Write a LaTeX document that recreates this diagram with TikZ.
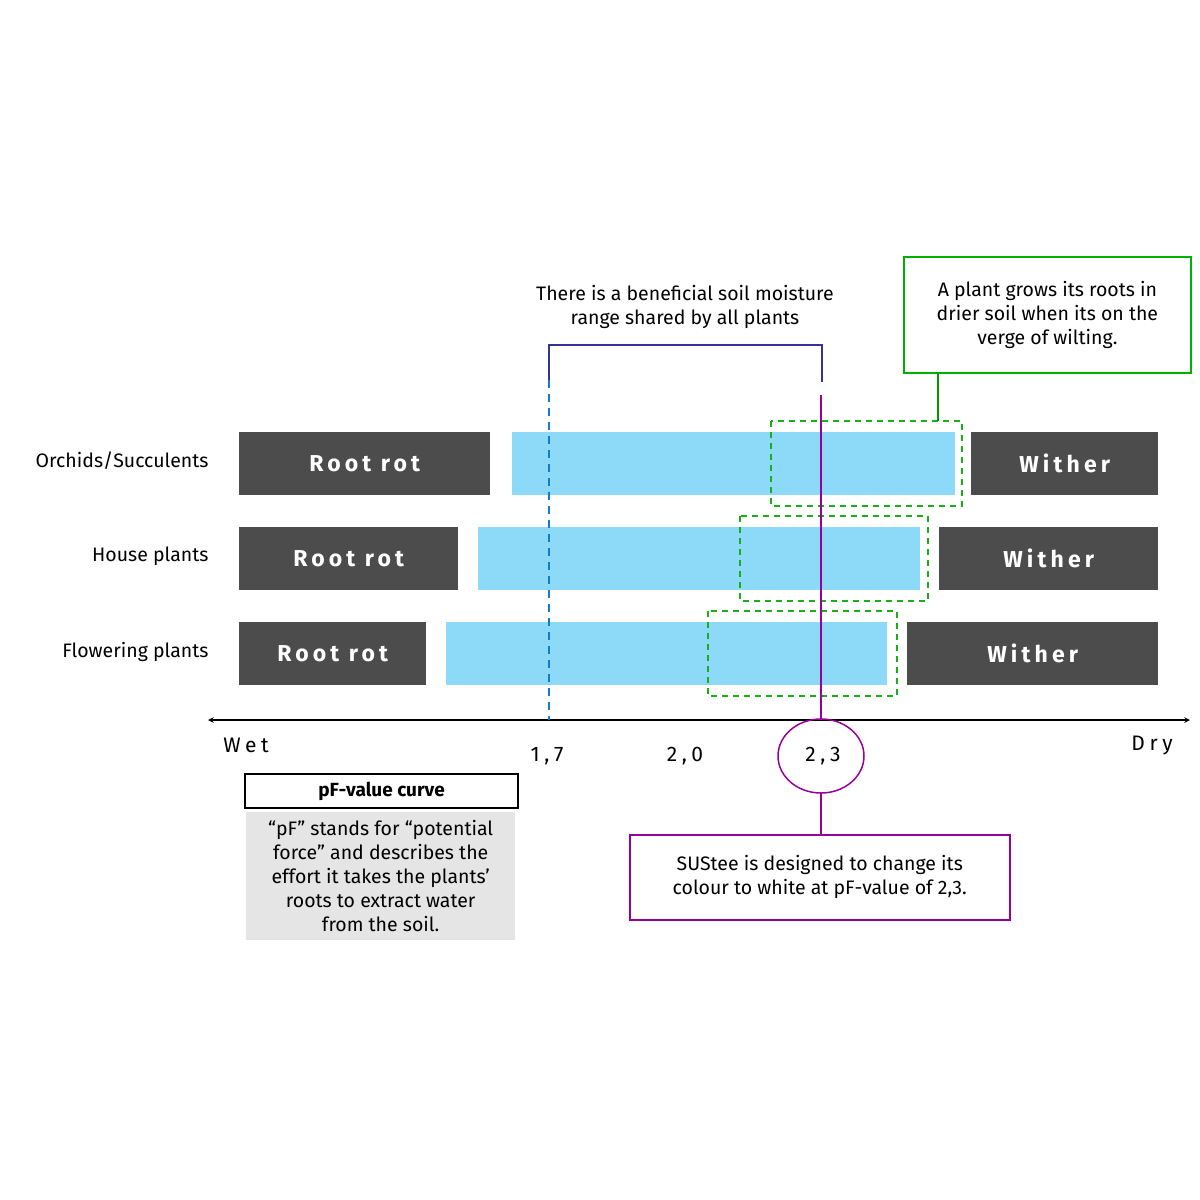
\documentclass[tikz,border=0pt]{standalone}
\usepackage{fontspec}
\setmainfont{Fira Sans}
\begin{document}
\begin{tikzpicture}[x=1pt,y=-1pt,
  dark/.style={fill=black!70,draw=none},
  gbox/.style={draw=green!65!black!90,line width=2pt,dash pattern=on 6pt off 5pt},
  lab/.style={font=\fontsize{19.5}{22}\selectfont,anchor=east},
  wt/.style={text=white,font=\fontsize{23}{25}\selectfont\bfseries\addfontfeatures{LetterSpace=18}},
  ax/.style={font=\fontsize{21}{24}\selectfont\addfontfeatures{LetterSpace=22}},
  txt/.style={font=\fontsize{19.5}{24}\selectfont,align=center}]
\useasboundingbox (0,0) rectangle (1200,1200);
\colorlet{bl}{cyan!45!white}
% rows
\foreach \y/\rr/\bs/\be/\ws/\gs/\ge/\n in {432/490/512/955/971/771/962/a,527/458/478/920/939/740/928/b,622/426/446/887/907/708/897/c}{
  \fill[bl] (\bs,\y) rectangle (\be,\y+63);
  \draw[gbox] (\gs,\y-11) rectangle (\ge,\y+74);
  \node[dark,minimum width=\rr-239,minimum height=63,anchor=north west,wt] (rr\n) at (239,\y) {Root rot};
  \node[dark,minimum width=1158-\ws,minimum height=63,anchor=north west,wt] (w\n) at (\ws,\y) {Wither};
}
\node[lab] (l1) at (212,461) {Orchids/Succulents};
\node[lab] (l2) at (212,556) {House plants};
\node[lab] (l3) at (212,652) {Flowering plants};
% axis
\coordinate (axl) at (208,720); \coordinate (axr) at (1190,720);
\draw[line width=1.5pt,<->,>=stealth] (axl) -- (axr);
\node[ax] (wet) at (246,745) {Wet};
\node[ax] (dry) at (1152,745) {Dry};
\node[ax] (v17) at (547,756) {1,7};
\node[ax] (v20) at (685,756) {2,0};
\node[ax] (v23) at (823,756) {2,3};
\draw[violet!80!magenta,line width=1.5pt] (821,756) ellipse (43 and 37);
% bracket
\draw[blue!50!black!80,line width=1.3pt] (549,380) -- (549,345) -- (822,345) -- (822,382);
\draw[cyan!60!blue,line width=1.5pt,dash pattern=on 8pt off 6pt] (549,380) -- (549,720);
\node[txt] (t1) at (685,307) {There is a beneficial soil moisture\\range shared by all plants};
% purple
\node[draw=violet!80!magenta,line width=1.5pt,minimum width=380,minimum height=85,anchor=north west] (pb) at (629,834) {};
\node[txt] at (pb.center) {SUStee is designed to change its\\colour to white at pF-value of 2,3.};
\draw[violet!80!magenta,line width=1.3pt] (821,395) -- (821,719);
\draw[violet!80!magenta,line width=1.3pt] (821,793) -- (pb.north -| 821,834);
% green callout
\node[draw=green!70!black,line width=1.8pt,fill=white,minimum width=287,minimum height=116,anchor=north west] (gb) at (903,256) {};
\node[txt] at (gb.center) {A plant grows its roots in\\drier soil when its on the\\verge of wilting.};
\draw[green!60!black,line width=1.3pt] (938,372) -- (938,421);
% pF
\node[draw=black,line width=2pt,minimum width=273,minimum height=34,anchor=north west,font=\fontsize{19}{20}\selectfont\bfseries] (pf) at (244,773) {pF-value curve};
\node[fill=black!10,minimum width=269,minimum height=128,anchor=north west] (gr) at (246,812) {};
\node[txt] at (gr.center) {“pF” stands for “potential\\force” and describes the\\effort it takes the plants’\\roots to extract water\\from the soil.};
\end{tikzpicture}
\end{document}
